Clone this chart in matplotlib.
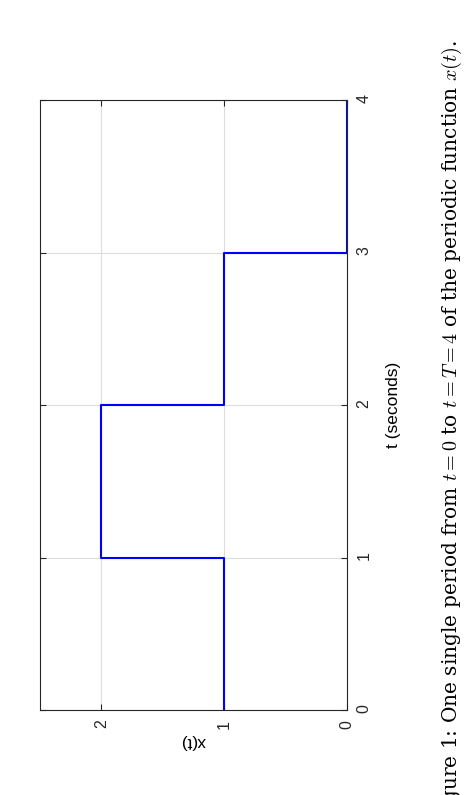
import matplotlib
matplotlib.use("Agg")
import matplotlib.pyplot as plt

# one period of x(t), stairs
t = [0, 1, 1, 2, 2, 3, 3, 4]
x = [1, 1, 2, 2, 1, 1, 0, 0]
t_ticks = [0, 1, 2, 3, 4]
x_ticks = [0, 1, 2]

plt.rcParams["font.family"] = ["Liberation Sans", "DejaVu Sans"]
plt.rcParams["mathtext.fontset"] = "cm"

fig = plt.figure(figsize=(4.77, 7.95), dpi=100)
ax = fig.add_axes([40 / 477, 85 / 795, 307 / 477, 610 / 795])

# page is rotated: x(t) runs right-to-left, t runs upward
ax.plot(x, t, color="#0000ff", lw=1.5)
ax.set_xlim(2.5, 0)
ax.set_ylim(0, 4)
ax.set_xticks(x_ticks)
ax.set_yticks(t_ticks)
ax.yaxis.tick_right()
ax.yaxis.set_label_position("right")
ax.grid(True, color="#dddddd", lw=0.8)
ax.tick_params(direction="in", length=4, top=True, left=True, labelsize=11.5,
               colors="#262626", pad=7)
for lab in ax.get_xticklabels() + ax.get_yticklabels():
    lab.set_rotation(90)
for s in ax.spines.values():
    s.set_color("#262626")
    s.set_linewidth(0.8)

ax.set_ylabel("t (seconds)", rotation=90, fontsize=12.5, labelpad=10)
ax.set_xlabel("x(t)", rotation=180, fontsize=12.5, labelpad=4)

fig.text(452 / 477, 1 - 40 / 795,
         "Figure 1: One single period from $t=0$ to $t=T=4$ of the periodic function $x(t)$.",
         rotation=90, ha="center", va="top", fontsize=14.5, family="DejaVu Serif")

fig.savefig("out.png", dpi=100)
